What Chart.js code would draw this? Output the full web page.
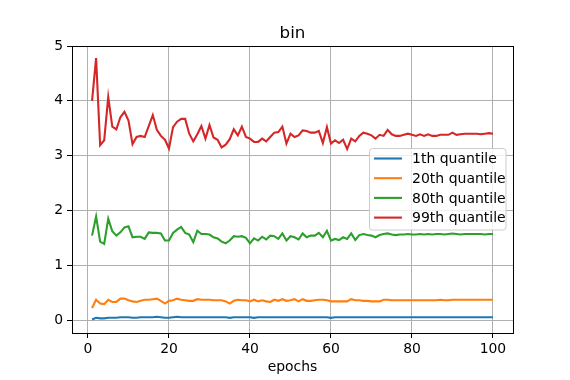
<!DOCTYPE html>
<html><head><meta charset="utf-8">
<script src="https://cdn.jsdelivr.net/npm/chart.js@4/dist/chart.umd.min.js"></script>
<style>html,body{margin:0;padding:0;background:#fff}canvas{display:block}</style>
</head><body>
<canvas id="c" width="570" height="380"></canvas>
<script>
const epochs = [1,2,3,4,5,6,7,8,9,10,11,12,13,14,15,16,17,18,19,20,21,22,23,24,25,26,27,28,29,30,31,32,33,34,35,36,37,38,39,40,41,42,43,44,45,46,47,48,49,50,51,52,53,54,55,56,57,58,59,60,61,62,63,64,65,66,67,68,69,70,71,72,73,74,75,76,77,78,79,80,81,82,83,84,85,86,87,88,89,90,91,92,93,94,95,96,97,98,99,100];
const q1 = [0.01,0.04,0.03,0.03,0.04,0.04,0.04,0.05,0.05,0.05,0.04,0.04,0.05,0.05,0.05,0.05,0.06,0.05,0.04,0.04,0.05,0.06,0.05,0.05,0.05,0.05,0.05,0.05,0.05,0.05,0.05,0.05,0.05,0.05,0.04,0.05,0.05,0.05,0.05,0.05,0.04,0.05,0.05,0.05,0.05,0.05,0.05,0.05,0.05,0.05,0.05,0.05,0.05,0.05,0.05,0.05,0.05,0.05,0.05,0.04,0.05,0.05,0.05,0.05,0.05,0.05,0.05,0.05,0.05,0.05,0.05,0.05,0.05,0.05,0.05,0.05,0.05,0.05,0.05,0.05,0.05,0.05,0.05,0.05,0.05,0.05,0.05,0.05,0.05,0.05,0.05,0.05,0.05,0.05,0.05,0.05,0.05,0.05,0.05,0.05];
const q20 = [0.22,0.37,0.30,0.29,0.37,0.33,0.33,0.39,0.39,0.36,0.34,0.33,0.35,0.37,0.37,0.38,0.39,0.35,0.30,0.35,0.36,0.39,0.37,0.36,0.35,0.35,0.38,0.37,0.37,0.37,0.36,0.36,0.36,0.34,0.30,0.35,0.37,0.36,0.36,0.34,0.37,0.34,0.36,0.34,0.33,0.37,0.35,0.38,0.35,0.36,0.38,0.34,0.38,0.35,0.35,0.36,0.37,0.37,0.36,0.34,0.34,0.34,0.34,0.34,0.38,0.36,0.36,0.35,0.35,0.34,0.34,0.34,0.37,0.37,0.36,0.36,0.36,0.36,0.36,0.36,0.36,0.36,0.36,0.36,0.36,0.36,0.37,0.36,0.36,0.37,0.37,0.37,0.37,0.37,0.37,0.37,0.37,0.37,0.37,0.37];
const q80 = [1.54,1.89,1.43,1.39,1.85,1.62,1.54,1.60,1.69,1.71,1.51,1.52,1.52,1.48,1.60,1.59,1.59,1.58,1.45,1.45,1.59,1.65,1.70,1.59,1.56,1.42,1.63,1.57,1.57,1.56,1.51,1.49,1.43,1.40,1.45,1.53,1.52,1.53,1.50,1.40,1.49,1.45,1.52,1.47,1.54,1.53,1.48,1.58,1.45,1.53,1.51,1.47,1.58,1.51,1.54,1.54,1.59,1.51,1.63,1.45,1.48,1.46,1.51,1.48,1.58,1.46,1.55,1.57,1.55,1.54,1.51,1.55,1.57,1.58,1.56,1.55,1.56,1.56,1.57,1.56,1.56,1.57,1.56,1.57,1.56,1.57,1.57,1.56,1.57,1.58,1.57,1.56,1.57,1.57,1.57,1.57,1.57,1.56,1.57,1.57];
const q99 = [4.00,4.78,3.19,3.28,4.07,3.53,3.48,3.70,3.80,3.64,3.21,3.34,3.36,3.34,3.54,3.74,3.47,3.36,3.29,3.13,3.52,3.62,3.67,3.67,3.40,3.26,3.39,3.54,3.31,3.56,3.33,3.29,3.15,3.20,3.30,3.48,3.37,3.53,3.34,3.31,3.25,3.25,3.31,3.26,3.34,3.42,3.43,3.53,3.22,3.40,3.34,3.37,3.46,3.45,3.42,3.42,3.45,3.23,3.52,3.22,3.28,3.23,3.29,3.12,3.31,3.26,3.36,3.42,3.40,3.37,3.31,3.38,3.36,3.47,3.39,3.36,3.36,3.38,3.40,3.38,3.36,3.39,3.36,3.39,3.36,3.36,3.38,3.38,3.38,3.42,3.38,3.39,3.40,3.40,3.40,3.40,3.39,3.40,3.41,3.40];
const seriesNames = ['1th quantile','20th quantile','80th quantile','99th quantile'];
const seriesColors = ['#1f77b4','#ff7f0e','#2ca02c','#d62728'];
const xTicks = [0,20,40,60,80,100];
const yTicks = [0,1,2,3,4,5];
const titleText = 'bin';
const xLabel = 'epochs';
const FONT = "'DejaVu Sans', sans-serif";

const seriesValues = [q1, q20, q80, q99];
const datasets = seriesValues.map((vals, i) => ({
  label: seriesNames[i],
  data: epochs.map((e, j) => ({x: e, y: vals[j]})),
  borderColor: seriesColors[i],
  backgroundColor: seriesColors[i],
  borderWidth: 2.1,
  pointRadius: 0,
  tension: 0,
  fill: false
}));

const framePlugin = {
  id: 'frame',
  afterDatasetsDraw(chart) {
    const {ctx, chartArea: a} = chart;
    ctx.save();
    ctx.strokeStyle = '#000';
    ctx.lineWidth = 1;
    ctx.strokeRect(Math.round(a.left) + 0.5, Math.round(a.top) + 0.5,
                   Math.round(a.right - a.left), Math.round(a.bottom - a.top));
    ctx.restore();
  }
};

const legendPlugin = {
  id: 'mplLegend',
  afterDraw(chart) {
    const ctx = chart.ctx;
    const x0 = 369.5, y0 = 148.5, w = 136.5, h = 81.5, r = 3;
    ctx.save();
    ctx.beginPath();
    ctx.moveTo(x0 + r, y0);
    ctx.arcTo(x0 + w, y0, x0 + w, y0 + h, r);
    ctx.arcTo(x0 + w, y0 + h, x0, y0 + h, r);
    ctx.arcTo(x0, y0 + h, x0, y0, r);
    ctx.arcTo(x0, y0, x0 + w, y0, r);
    ctx.closePath();
    ctx.fillStyle = 'rgba(255,255,255,0.8)';
    ctx.fill();
    ctx.strokeStyle = '#cccccc';
    ctx.lineWidth = 1;
    ctx.stroke();
    ctx.font = '14px ' + FONT;
    ctx.textBaseline = 'middle';
    ctx.textAlign = 'left';
    chart.data.datasets.forEach((ds, i) => {
      const yy = y0 + 10 + i * 19.7;
      ctx.strokeStyle = ds.borderColor;
      ctx.lineWidth = 2.1;
      ctx.beginPath();
      ctx.moveTo(374, yy);
      ctx.lineTo(402, yy);
      ctx.stroke();
      ctx.fillStyle = '#000';
      ctx.fillText(ds.label, 412, yy + 1);
    });
    ctx.restore();
  }
};

new Chart(document.getElementById('c'), {
  type: 'line',
  data: { datasets },
  options: {
    responsive: false,
    animation: false,
    devicePixelRatio: 1,
    layout: { padding: { left: 0, right: 57, top: 0, bottom: 0 } },
    plugins: {
      legend: { display: false },
      tooltip: { enabled: false },
      title: {
        display: true,
        text: titleText,
        fullSize: false,
        color: '#000',
        font: { family: FONT, size: 16.7, weight: 'normal' },
        padding: { top: 24, bottom: 2 }
      }
    },
    scales: {
      x: {
        type: 'linear',
        min: -3.95,
        max: 104.95,
        afterBuildTicks: axis => { axis.ticks = xTicks.map(v => ({value: v})); },
        afterFit: axis => { axis.height = 47; },
        border: { display: false },
        grid: { color: '#b0b0b0', lineWidth: 1, tickColor: '#000', tickLength: 5, tickWidth: 1 },
        ticks: { color: '#000', font: { family: FONT, size: 13.9 }, padding: 3, maxRotation: 0 },
        title: { display: true, text: xLabel, color: '#000', font: { family: FONT, size: 13.9 }, padding: { top: 2, bottom: 4 } }
      },
      y: {
        type: 'linear',
        min: -0.237,
        max: 5.0,
        afterBuildTicks: axis => { axis.ticks = yTicks.map(v => ({value: v})); },
        afterFit: axis => { axis.width = 72; },
        border: { display: false },
        grid: { color: '#b0b0b0', lineWidth: 1, tickColor: '#000', tickLength: 5, tickWidth: 1 },
        ticks: { color: '#000', font: { family: FONT, size: 13.9 }, padding: 4 }
      }
    }
  },
  plugins: [framePlugin, legendPlugin]
});
</script>
</body></html>
